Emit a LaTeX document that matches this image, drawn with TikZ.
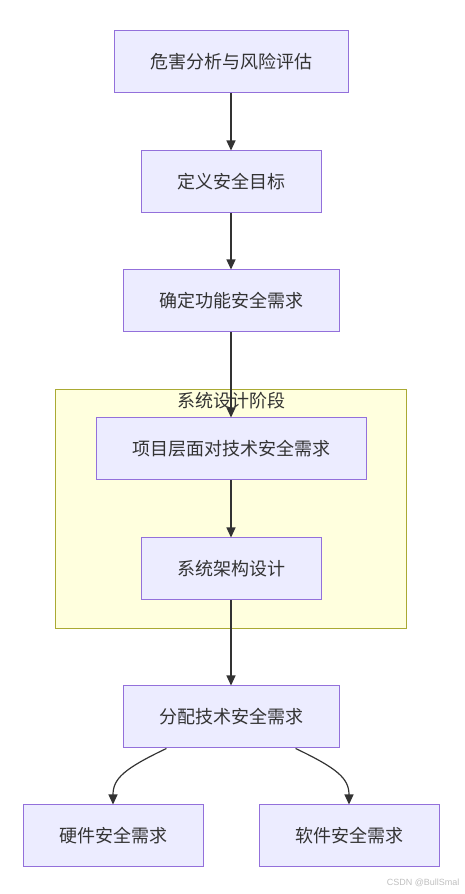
\documentclass[tikz,border=0pt]{standalone}
\usepackage{fontspec}
\newfontfamily\cjk{Noto Sans CJK SC}
\newfontfamily\marksans{Liberation Sans}
\usetikzlibrary{arrows.meta,positioning,fit,backgrounds}
\definecolor{nodefill}{HTML}{ECECFF}
\definecolor{nodeline}{HTML}{9370DB}
\definecolor{groupfill}{HTML}{FFFFDE}
\definecolor{groupline}{HTML}{AAAA33}
\definecolor{textgray}{HTML}{333333}
\tikzset{
  basic/.style  = {draw=nodeline, fill=nodefill, rectangle, line width=1pt,
                   font=\cjk\fontsize{18}{20}\selectfont, text=textgray,
                   minimum height=62pt, inner xsep=36pt},
  group/.style  = {draw=groupline, fill=groupfill, line width=1pt},
  flow/.style   = {draw=textgray, line width=1.2pt, -{Triangle[length=10pt,width=9pt]}}
}

\begin{document}
\begin{tikzpicture}[x=1pt,y=1pt,node distance=57pt]
\useasboundingbox (0,0) rectangle (465,894);
\node[basic] (hara) at (231,832) {危害分析与风险评估};
\node[basic, below=of hara] (goal) {定义安全目标};
\node[basic, below=56pt of goal] (func) {确定功能安全需求};
\node[basic, below=85pt of func] (item) {项目层面对技术安全需求};
\node[basic, below=of item] (arch) {系统架构设计};
\node[basic, below=85pt of arch] (alloc) {分配技术安全需求};
\node[basic, below=56pt of alloc, xshift=-118pt] (hw) {硬件安全需求};
\node[basic, below=56pt of alloc, xshift=118pt] (sw) {软件安全需求};
% subgraph box
\begin{scope}[on background layer]
\node[group, fit=(item)(arch), inner xsep=40pt, inner ysep=28pt] (phase) {};
\end{scope}
\node[font=\cjk\fontsize{18}{20}\selectfont, text=textgray, anchor=north] (phasetitle) at (phase.north) {系统设计阶段};
% edges
\draw[flow] (hara) -- (goal);
\draw[flow] (goal) -- (func);
\draw[flow] (func) -- (item);
\draw[flow] (item) -- (arch);
\draw[flow] (arch) -- (alloc);
\draw[flow] (alloc.206) .. controls +(-42,-20) and +(0,26) .. (hw.north);
\draw[flow] (alloc.334) .. controls +(42,-20) and +(0,26) .. (sw.north);
\node[font=\marksans\fontsize{9}{10}\selectfont, text=black!25, anchor=east] (mark) at (463,11) {CSDN @BullSmal};
\end{tikzpicture}
\end{document}
